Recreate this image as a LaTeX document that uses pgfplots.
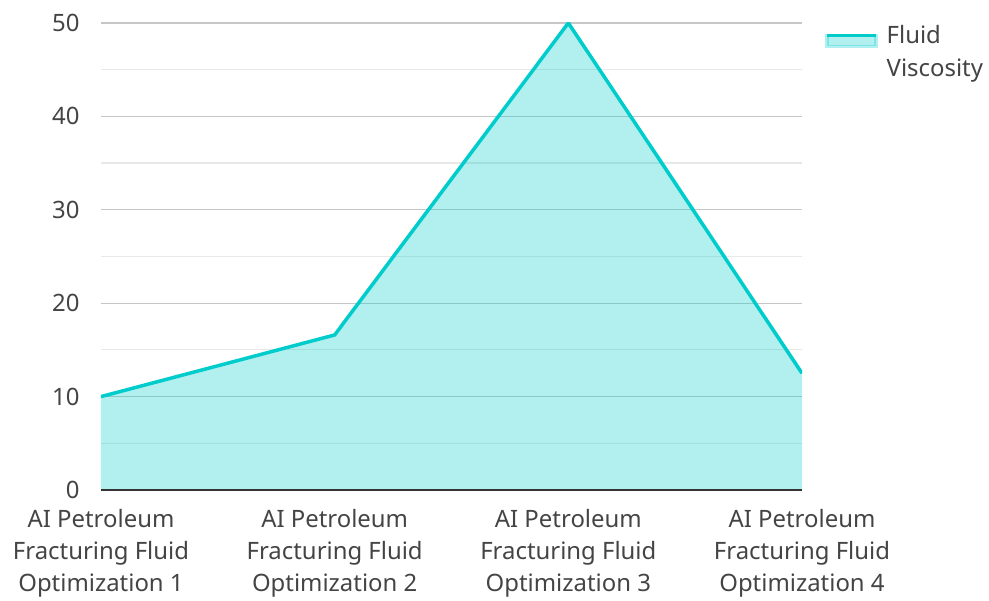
\documentclass[border=0pt]{standalone}
\usepackage{pgfplots}
\pgfplotsset{compat=1.18}
\usepackage{fontspec}
\setmainfont{Noto Sans}
\definecolor{teal1}{RGB}{0,204,204}
\definecolor{txt}{RGB}{68,68,68}
\begin{document}
\begin{tikzpicture}
\begin{axis}[
  scale only axis, width=701bp, height=467bp,
  xmin=0, xmax=3, ymin=0, ymax=50,
  axis x line*=bottom, axis y line*=left,
  y axis line style={draw=none},
  x axis line style={draw=none},
  major tick length=0pt, minor tick length=0pt,
  /pgf/number format/assume math mode=true,
  ytick={0,10,20,30,40,50},
  minor ytick={5,15,25,35,45},
  ymajorgrids, yminorgrids,
  major grid style={draw=black!22, line width=1.2bp},
  minor grid style={draw=black!9, line width=1.2bp},
  xtick={0,1,2,3},
  xticklabels={{AI Petroleum\\Fracturing Fluid\\Optimization 1},{AI Petroleum\\Fracturing Fluid\\Optimization 2},{AI Petroleum\\Fracturing Fluid\\Optimization 3},{AI Petroleum\\Fracturing Fluid\\Optimization 4}},
  tick label style={font=\fontsize{24}{32}\selectfont, text=txt},
  xticklabel style={align=center, inner ysep=0pt, yshift=-19bp},
  yticklabel style={xshift=-18bp},
  legend style={at={(1,1)}, anchor=north west, xshift=20bp, yshift=2bp, draw=none, fill=none,
    font=\fontsize{24}{33}\selectfont, text=txt, nodes={align=left}},
  legend cell align=left,
  legend image code/.code={
    \fill[teal1, opacity=0.3] (0bp,5bp) rectangle (49bp,16bp);
    \draw[teal1, line width=3.5bp] (0bp,16bp) -- (49bp,16bp);
    \path (56bp,16bp);
  },
]
\addplot[draw=none, fill=teal1, fill opacity=0.3, forget plot]
  coordinates {(0,10) (1,16.6) (2,50) (3,12.5)} \closedcycle;
\addplot[teal1, line width=3.5bp]
  coordinates {(0,10) (1,16.6) (2,50) (3,12.5)};
\addlegendentry{Fluid\\Viscosity}
\draw[black!80, line width=1.6bp] (rel axis cs:0,0) -- (rel axis cs:1,0);
\coordinate (sw) at (rel axis cs:0,0);
\coordinate (ne) at (rel axis cs:1,1);
\end{axis}
\pgfresetboundingbox
\path[use as bounding box] ([xshift=-101bp,yshift=-111bp]sw) rectangle ([xshift=187bp,yshift=23bp]ne);
\end{tikzpicture}
\end{document}
